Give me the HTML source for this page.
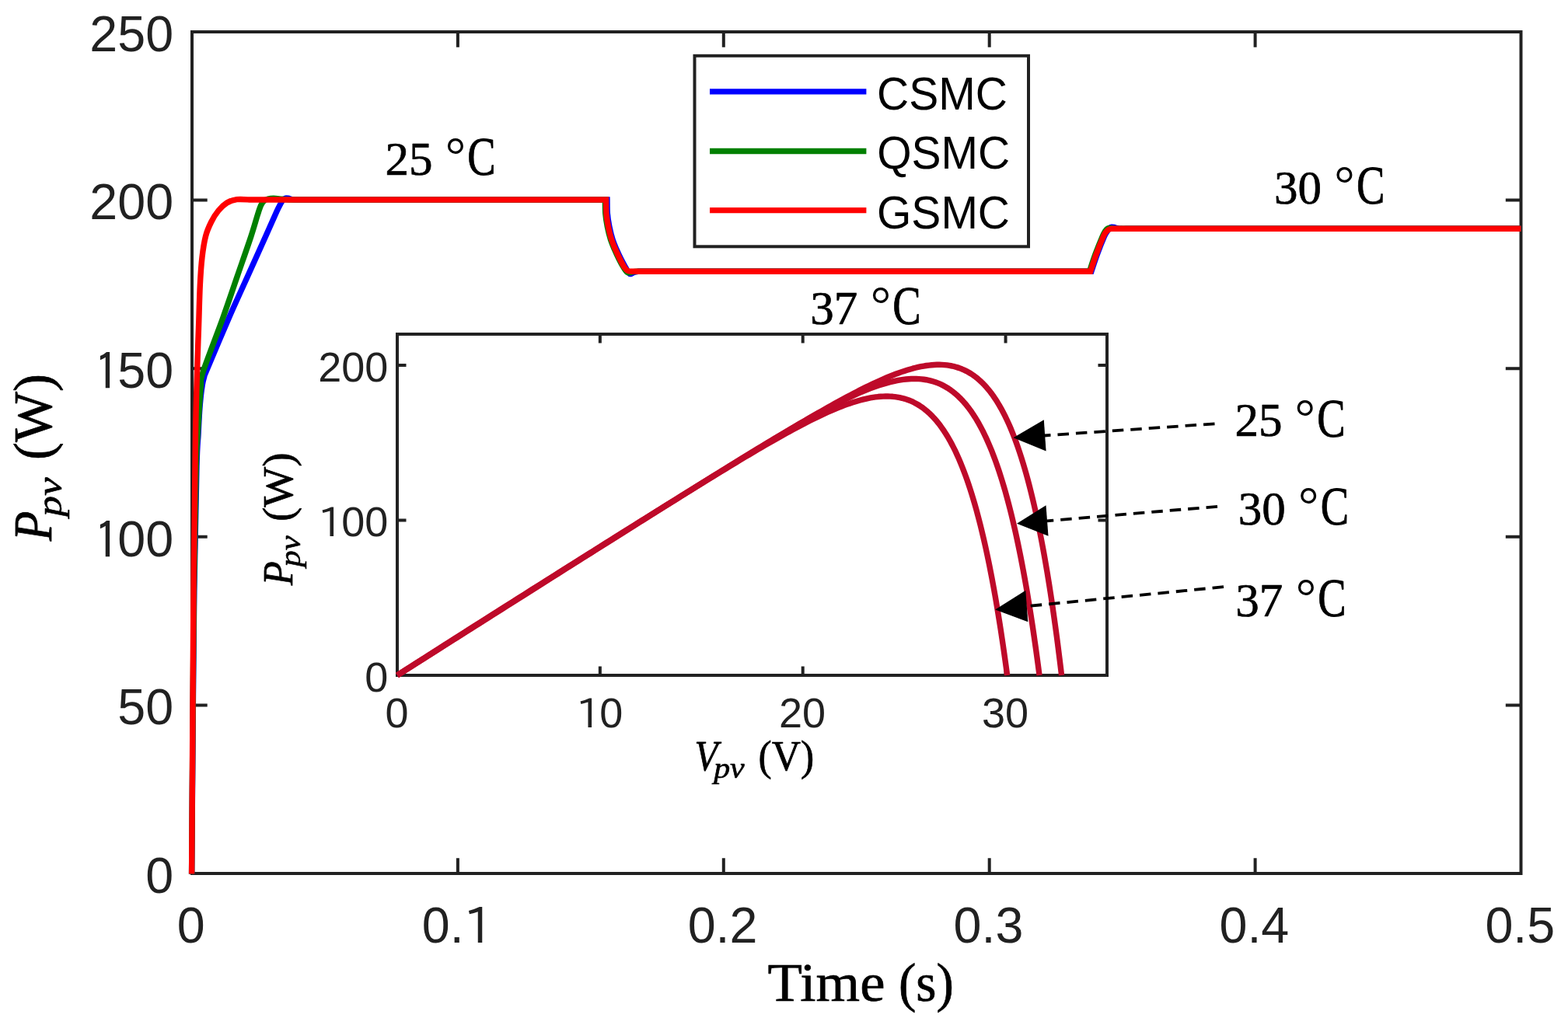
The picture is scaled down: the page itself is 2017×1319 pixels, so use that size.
<!DOCTYPE html>
<html><head><meta charset="utf-8"><title>Ppv vs Time</title>
<style>html,body{margin:0;padding:0;background:#fff;}body{width:2017px;height:1319px;overflow:hidden;}svg{display:block;}</style>
</head><body>
<svg width="2017" height="1319" viewBox="0 0 2017 1319">
<rect x="0" y="0" width="2017" height="1319" fill="#fff"/>
<text y="1148.8" font-family="'Liberation Sans', Arial, sans-serif" font-size="64.6" fill="#212121"><tspan x="187.19">0</tspan></text>
<text y="932.2" font-family="'Liberation Sans', Arial, sans-serif" font-size="64.6" fill="#212121"><tspan x="151.26">50</tspan></text>
<text y="715.6" font-family="'Liberation Sans', Arial, sans-serif" font-size="64.6" fill="#212121"><tspan x="121.16" dy="4.31" font-family="IPAGothic, 'Liberation Sans', sans-serif" font-size="64.99">1</tspan><tspan x="151.26" dy="-4.31">00</tspan></text>
<text y="499" font-family="'Liberation Sans', Arial, sans-serif" font-size="64.6" fill="#212121"><tspan x="121.16" dy="4.31" font-family="IPAGothic, 'Liberation Sans', sans-serif" font-size="64.99">1</tspan><tspan x="151.26" dy="-4.31">50</tspan></text>
<text y="282.4" font-family="'Liberation Sans', Arial, sans-serif" font-size="64.6" fill="#212121"><tspan x="115.34">200</tspan></text>
<text y="65.8" font-family="'Liberation Sans', Arial, sans-serif" font-size="64.6" fill="#212121"><tspan x="115.34">250</tspan></text>
<text y="1213" font-family="'Liberation Sans', Arial, sans-serif" font-size="64.6" fill="#212121"><tspan x="227.84">0</tspan></text>
<text y="1213" font-family="'Liberation Sans', Arial, sans-serif" font-size="64.6" fill="#212121"><tspan x="542.8">0.</tspan><tspan x="596.36" dy="0.8" font-family="IPAPGothic, IPAGothic, 'Liberation Sans', sans-serif" font-size="62.4">1</tspan></text>
<text y="1213" font-family="'Liberation Sans', Arial, sans-serif" font-size="64.6" fill="#212121"><tspan x="884.7">0.2</tspan></text>
<text y="1213" font-family="'Liberation Sans', Arial, sans-serif" font-size="64.6" fill="#212121"><tspan x="1226.6">0.3</tspan></text>
<text y="1213" font-family="'Liberation Sans', Arial, sans-serif" font-size="64.6" fill="#212121"><tspan x="1568.5">0.4</tspan></text>
<text y="1213" font-family="'Liberation Sans', Arial, sans-serif" font-size="64.6" fill="#212121"><tspan x="1910.4">0.5</tspan></text>
<path d="M247,907.4 h19.7 M1956.5,907.4 h-19.7 M247,690.8 h19.7 M1956.5,690.8 h-19.7 M247,474.2 h19.7 M1956.5,474.2 h-19.7 M247,257.6 h19.7 M1956.5,257.6 h-19.7 M247,41 h19.7 M1956.5,41 h-19.7 M588.9,1124 v-19.7 M588.9,41 v19.7 M930.8,1124 v-19.7 M930.8,41 v19.7 M1272.7,1124 v-19.7 M1272.7,41 v19.7 M1614.6,1124 v-19.7 M1614.6,41 v19.7" stroke="#212121" stroke-width="4.0" fill="none"/>
<rect x="247.0" y="41.0" width="1709.5" height="1083" fill="none" stroke="#212121" stroke-width="4.0"/>
<g fill="none" stroke-width="7.4" stroke-linejoin="miter" stroke-miterlimit="10" stroke-linecap="butt">
<path d="M246.6,1124.5 C246.77,1103.75 247.07,1060.75 247.6,1000 C248.13,939.25 248.9,826.67 249.8,760 C250.7,693.33 252.13,633.33 253,600 C253.87,566.67 254.4,571.67 255,560 C255.6,548.33 256.05,538.33 256.6,530 C257.15,521.67 257.67,515.92 258.3,510 C258.93,504.08 259.67,498.67 260.4,494.5 C261.13,490.33 261.9,487.75 262.7,485 C263.5,482.25 259.92,490.63 265.2,478 C270.48,465.37 285.47,429.7 294.4,409.2 C303.33,388.7 310.53,373.37 318.8,355 C327.07,336.63 337.8,312.83 344,299 C350.2,285.17 353.17,278.17 356,272 C358.83,265.83 359.67,264.45 361,262 C362.33,259.55 362.93,258.47 364,257.3 C365.07,256.13 366.23,255.35 367.4,255 C368.57,254.65 369.57,254.93 371,255.2 C372.43,255.47 373.67,256.3 376,256.6 C378.33,256.9 381.83,256.93 385,257 C388.17,257.07 393.33,257 395,257 L781,257 L781,257 C781.07,260 780.92,269.22 781.4,275 C781.88,280.78 782.78,286.13 783.9,291.7 C785.02,297.27 786.57,303.52 788.1,308.4 C789.63,313.28 791.3,316.82 793.1,321 C794.9,325.18 796.95,329.62 798.9,333.5 C800.85,337.38 803.18,341.35 804.8,344.3 C806.42,347.25 807.48,349.82 808.6,351.2 C809.72,352.58 810.35,352.7 811.5,352.6 C812.65,352.5 813.75,351.17 815.5,350.6 C817.25,350.03 820.92,349.43 822,349.2 L1403.9,349.2 L1403.9,349.2 C1405.17,345.48 1408.72,334.42 1411.5,326.9 C1414.28,319.38 1418.48,308.95 1420.6,304.1 C1422.72,299.25 1423.1,299.55 1424.2,297.8 C1425.3,296.05 1426.23,294.53 1427.2,293.6 C1428.17,292.67 1429.03,292.38 1430,292.2 C1430.97,292.02 1431.83,292.27 1433,292.5 C1434.17,292.73 1435.5,293.3 1437,293.6 C1438.5,293.9 1439.83,294.18 1442,294.3 C1444.17,294.42 1448.67,294.3 1450,294.3 L1956.5,294.3" stroke="#0000ff"/>
<path d="M246.6,1124.5 C246.75,1103.75 247.02,1060.75 247.5,1000 C247.98,939.25 248.7,826.67 249.5,760 C250.3,693.33 251.52,633.33 252.3,600 C253.08,566.67 253.53,572.5 254.2,560 C254.87,547.5 255.6,535.5 256.3,525 C257,514.5 257.57,504.82 258.4,497 C259.23,489.18 256.58,492.73 261.3,478.1 C266.02,463.47 279.35,429.72 286.7,409.2 C294.05,388.68 299.38,372.45 305.4,355 C311.42,337.55 318.45,317.67 322.8,304.5 C327.15,291.33 329.38,282.67 331.5,276 C333.62,269.33 334.17,267.42 335.5,264.5 C336.83,261.58 337.97,259.92 339.5,258.5 C341.03,257.08 342.62,256.55 344.7,256 C346.78,255.45 348.97,255.17 352,255.2 C355.03,255.23 359.57,255.9 362.9,256.2 C366.23,256.5 368.32,256.87 372,257 C375.68,257.13 382.83,257 385,257 L778.4,257 L778.4,257 C778.47,260 778.32,269.22 778.8,275 C779.28,280.78 780.18,286.13 781.3,291.7 C782.42,297.27 783.97,303.52 785.5,308.4 C787.03,313.28 788.7,316.82 790.5,321 C792.3,325.18 794.35,329.62 796.3,333.5 C798.25,337.38 800.45,341.48 802.2,344.3 C803.95,347.12 805.42,349.32 806.8,350.4 C808.18,351.48 809.13,350.93 810.5,350.8 C811.87,350.67 813.08,349.87 815,349.6 C816.92,349.33 820.83,349.27 822,349.2 L1401.5,349.2 L1401.5,349.2 C1402.77,345.48 1406.32,334.42 1409.1,326.9 C1411.88,319.38 1416.12,308.98 1418.2,304.1 C1420.28,299.22 1420.47,299.28 1421.6,297.6 C1422.73,295.92 1423.77,294.68 1425,294 C1426.23,293.32 1427.5,293.45 1429,293.5 C1430.5,293.55 1431.33,294.17 1434,294.3 C1436.67,294.43 1443.17,294.3 1445,294.3 L1956.5,294.3" stroke="#008000"/>
<path d="M246.6,1124.5 C246.73,1103.75 247,1060.75 247.4,1000 C247.8,939.25 248.32,833.33 249,760 C249.68,686.67 250.73,607.22 251.5,560 C252.27,512.78 252.93,499.7 253.6,476.7 C254.27,453.7 254.88,440.22 255.5,422 C256.12,403.78 256.55,382.57 257.3,367.4 C258.05,352.23 258.78,341.62 260,331 C261.22,320.38 262.63,311.28 264.6,303.7 C266.57,296.12 269.07,290.95 271.8,285.5 C274.53,280.05 277.65,275.08 281,271 C284.35,266.92 287.97,263.38 291.9,261 C295.83,258.62 299.58,257.37 304.6,256.7 C309.62,256.03 319.1,256.95 322,257 L779.6,257 L779.6,257 C779.67,260 779.52,269.22 780,275 C780.48,280.78 781.38,286.13 782.5,291.7 C783.62,297.27 785.17,303.52 786.7,308.4 C788.23,313.28 789.9,316.82 791.7,321 C793.5,325.18 795.55,329.62 797.5,333.5 C799.45,337.38 801.72,341.8 803.4,344.3 C805.08,346.8 805.93,347.68 807.6,348.5 C809.27,349.32 811,349.08 813.4,349.2 C815.8,349.32 820.57,349.2 822,349.2 L1402.7,349.2 L1402.7,349.2 C1403.97,345.48 1407.52,334.42 1410.3,326.9 C1413.08,319.38 1417.37,308.78 1419.4,304.1 C1421.43,299.42 1421.48,300.18 1422.5,298.8 C1423.52,297.42 1424.37,296.53 1425.5,295.8 C1426.63,295.07 1427.88,294.65 1429.3,294.4 C1430.72,294.15 1431.38,294.32 1434,294.3 C1436.62,294.28 1443.17,294.3 1445,294.3 L1956.5,294.3" stroke="#ff0000"/>
</g>
<rect x="511.0" y="430.0" width="913" height="439" fill="#fff"/>
<text y="889.6" font-family="'Liberation Sans', Arial, sans-serif" font-size="54" fill="#212121"><tspan x="469.27">0</tspan></text>
<text y="690.05" font-family="'Liberation Sans', Arial, sans-serif" font-size="54" fill="#212121"><tspan x="408.94" dy="0.8" font-family="IPAPGothic, IPAGothic, 'Liberation Sans', sans-serif" font-size="52.16">1</tspan><tspan x="439.24" dy="-0.8">00</tspan></text>
<text y="490.51" font-family="'Liberation Sans', Arial, sans-serif" font-size="54" fill="#212121"><tspan x="409.21">200</tspan></text>
<text y="935.7" font-family="'Liberation Sans', Arial, sans-serif" font-size="54" fill="#212121"><tspan x="495.38">0</tspan></text>
<text y="935.7" font-family="'Liberation Sans', Arial, sans-serif" font-size="54" fill="#212121"><tspan x="740.96" dy="0.8" font-family="IPAPGothic, IPAGothic, 'Liberation Sans', sans-serif" font-size="52.16">1</tspan><tspan x="771.26" dy="-0.8">0</tspan></text>
<text y="935.7" font-family="'Liberation Sans', Arial, sans-serif" font-size="54" fill="#212121"><tspan x="1002.08">20</tspan></text>
<text y="935.7" font-family="'Liberation Sans', Arial, sans-serif" font-size="54" fill="#212121"><tspan x="1262.94">30</tspan></text>
<path d="M511,669.45 h11.5 M1424,669.45 h-11.5 M511,469.91 h11.5 M1424,469.91 h-11.5 M771.86,869 v-11.5 M771.86,430 v11.5 M1032.71,869 v-11.5 M1032.71,430 v11.5 M1293.57,869 v-11.5 M1293.57,430 v11.5" stroke="#212121" stroke-width="4.0" fill="none"/>
<rect x="511.0" y="430.0" width="913" height="439" fill="none" stroke="#212121" stroke-width="4.0"/>
<g fill="none" stroke="#be0a2a" stroke-width="7.4" stroke-linejoin="round">
<path d="M511,869 L516.72,865.35 L522.43,861.71 L528.13,858.08 L533.8,854.46 L539.47,850.85 L545.11,847.26 L550.74,843.67 L556.36,840.1 L561.95,836.54 L567.54,832.99 L573.1,829.44 L578.65,825.91 L584.19,822.4 L589.7,818.89 L595.2,815.39 L600.69,811.91 L606.16,808.43 L611.61,804.97 L617.05,801.52 L622.47,798.08 L627.87,794.65 L633.26,791.23 L638.63,787.83 L643.99,784.43 L649.33,781.05 L654.65,777.68 L659.96,774.32 L665.24,770.97 L670.52,767.63 L675.77,764.3 L681.01,760.99 L686.23,757.68 L691.44,754.39 L696.63,751.11 L701.8,747.84 L706.96,744.58 L712.1,741.34 L717.22,738.1 L722.32,734.88 L727.41,731.67 L732.48,728.47 L737.53,725.28 L742.57,722.11 L747.59,718.94 L752.59,715.79 L757.58,712.65 L762.54,709.52 L767.49,706.41 L772.43,703.3 L777.34,700.21 L782.24,697.13 L787.12,694.06 L791.99,691.01 L796.83,687.96 L801.66,684.93 L806.47,681.92 L811.26,678.91 L816.04,675.92 L820.8,672.94 L825.53,669.97 L830.26,667.02 L834.96,664.07 L839.65,661.15 L844.31,658.23 L848.96,655.33 L853.6,652.44 L858.21,649.57 L862.8,646.71 L867.38,643.86 L871.94,641.03 L876.48,638.21 L881,635.4 L885.51,632.62 L889.99,629.84 L894.46,627.08 L898.91,624.34 L903.34,621.61 L907.75,618.9 L912.14,616.2 L916.51,613.52 L920.87,610.86 L925.2,608.21 L929.52,605.58 L933.82,602.97 L938.1,600.37 L942.36,597.8 L946.6,595.24 L950.82,592.7 L955.02,590.18 L959.2,587.69 L963.37,585.21 L967.51,582.75 L971.63,580.32 L975.74,577.91 L979.82,575.52 L983.89,573.15 L987.93,570.81 L991.96,568.5 L995.97,566.21 L999.95,563.94 L1003.92,561.71 L1007.86,559.5 L1011.79,557.32 L1015.69,555.17 L1019.58,553.05 L1023.44,550.97 L1027.29,548.92 L1031.11,546.9 L1034.91,544.91 L1038.69,542.97 L1042.46,541.06 L1046.2,539.19 L1049.92,537.36 L1053.61,535.58 L1057.29,533.83 L1060.95,532.14 L1064.58,530.49 L1068.2,528.88 L1071.79,527.33 L1075.36,525.83 L1078.91,524.38 L1082.44,522.99 L1085.94,521.66 L1089.43,520.39 L1092.89,519.17 L1096.33,518.02 L1099.75,516.94 L1103.14,515.93 L1106.52,514.98 L1109.87,514.11 L1113.2,513.32 L1116.5,512.6 L1119.78,511.96 L1123.05,511.41 L1126.28,510.94 L1129.5,510.56 L1132.69,510.28 L1135.86,510.08 L1139,509.99 L1142.12,509.99 L1145.22,510.1 L1148.29,510.31 L1151.34,510.63 L1154.37,511.06 L1157.37,511.61 L1160.35,512.28 L1163.3,513.07 L1166.23,513.98 L1169.13,515.02 L1172.01,516.19 L1174.87,517.49 L1177.7,518.93 L1180.5,520.51 L1183.28,522.23 L1186.03,524.09 L1188.76,526.11 L1191.46,528.27 L1194.14,530.59 L1196.79,533.06 L1199.41,535.7 L1202,538.49 L1204.57,541.44 L1207.12,544.56 L1209.63,547.84 L1212.12,551.3 L1214.58,554.92 L1217.02,558.71 L1219.42,562.67 L1221.8,566.8 L1224.15,571.11 L1226.47,575.59 L1228.76,580.24 L1231.02,585.06 L1233.25,590.05 L1235.46,595.22 L1237.63,600.55 L1239.77,606.04 L1241.89,611.7 L1243.97,617.52 L1246.02,623.5 L1248.04,629.63 L1250.03,635.91 L1251.98,642.33 L1253.91,648.89 L1255.8,655.59 L1257.66,662.41 L1259.48,669.35 L1261.27,676.4 L1263.03,683.55 L1264.75,690.8 L1266.44,698.13 L1268.09,705.53 L1269.7,713 L1271.28,720.52 L1272.82,728.08 L1274.32,735.66 L1275.79,743.25 L1277.21,750.83 L1278.6,758.4 L1279.94,765.93 L1281.24,773.4 L1282.5,780.8 L1283.71,788.1 L1284.88,795.29 L1286.01,802.34 L1287.09,809.24 L1288.11,815.94 L1289.09,822.44 L1290.02,828.7 L1290.89,834.69 L1291.71,840.37 L1292.46,845.73 L1293.16,850.7 L1293.79,855.25 L1294.34,859.33 L1294.82,862.87 L1295.21,865.79 L1295.5,867.94 L1295.64,869"/>
<path d="M511,869 L517.03,865.19 L523.04,861.38 L529.03,857.59 L535.01,853.81 L540.97,850.04 L546.91,846.28 L552.84,842.53 L558.75,838.79 L564.64,835.07 L570.52,831.35 L576.38,827.64 L582.22,823.95 L588.05,820.26 L593.86,816.59 L599.65,812.93 L605.42,809.28 L611.18,805.63 L616.92,802 L622.64,798.39 L628.35,794.78 L634.04,791.18 L639.71,787.59 L645.37,784.02 L651.01,780.46 L656.63,776.9 L662.23,773.36 L667.81,769.83 L673.38,766.31 L678.93,762.8 L684.47,759.31 L689.98,755.82 L695.48,752.35 L700.96,748.88 L706.42,745.43 L711.87,741.99 L717.3,738.56 L722.71,735.15 L728.1,731.74 L733.47,728.35 L738.83,724.96 L744.17,721.59 L749.49,718.23 L754.79,714.89 L760.07,711.55 L765.34,708.23 L770.59,704.92 L775.82,701.62 L781.03,698.33 L786.22,695.05 L791.4,691.79 L796.55,688.53 L801.69,685.29 L806.81,682.07 L811.91,678.85 L817,675.65 L822.06,672.46 L827.11,669.28 L832.13,666.12 L837.14,662.96 L842.13,659.82 L847.1,656.7 L852.05,653.58 L856.99,650.48 L861.9,647.4 L866.8,644.32 L871.67,641.26 L876.53,638.22 L881.37,635.18 L886.19,632.16 L890.98,629.16 L895.76,626.17 L900.53,623.19 L905.27,620.23 L909.99,617.29 L914.69,614.36 L919.37,611.44 L924.04,608.54 L928.68,605.66 L933.31,602.79 L937.91,599.94 L942.49,597.1 L947.06,594.29 L951.6,591.49 L956.13,588.7 L960.63,585.94 L965.12,583.19 L969.58,580.47 L974.02,577.76 L978.45,575.07 L982.85,572.41 L987.23,569.76 L991.6,567.13 L995.94,564.53 L1000.26,561.95 L1004.56,559.39 L1008.84,556.86 L1013.1,554.35 L1017.34,551.87 L1021.55,549.41 L1025.75,546.98 L1029.92,544.58 L1034.08,542.21 L1038.21,539.86 L1042.32,537.55 L1046.41,535.27 L1050.48,533.02 L1054.53,530.81 L1058.55,528.63 L1062.55,526.48 L1066.54,524.38 L1070.5,522.31 L1074.43,520.28 L1078.35,518.3 L1082.24,516.35 L1086.11,514.46 L1089.96,512.6 L1093.79,510.8 L1097.6,509.05 L1101.38,507.34 L1105.14,505.7 L1108.87,504.1 L1112.59,502.57 L1116.28,501.09 L1119.95,499.67 L1123.59,498.32 L1127.21,497.04 L1130.81,495.82 L1134.38,494.68 L1137.94,493.6 L1141.46,492.61 L1144.97,491.69 L1148.45,490.86 L1151.9,490.1 L1155.34,489.44 L1158.75,488.86 L1162.13,488.38 L1165.49,487.99 L1168.82,487.71 L1172.13,487.52 L1175.42,487.44 L1178.68,487.47 L1181.92,487.6 L1185.13,487.86 L1188.31,488.23 L1191.47,488.72 L1194.61,489.34 L1197.72,490.09 L1200.8,490.97 L1203.86,491.98 L1206.89,493.13 L1209.89,494.43 L1212.87,495.87 L1215.82,497.46 L1218.75,499.19 L1221.65,501.09 L1224.52,503.14 L1227.36,505.35 L1230.18,507.73 L1232.97,510.28 L1235.73,512.99 L1238.46,515.88 L1241.17,518.94 L1243.84,522.17 L1246.49,525.59 L1249.11,529.19 L1251.7,532.97 L1254.27,536.93 L1256.8,541.08 L1259.3,545.41 L1261.77,549.93 L1264.22,554.64 L1266.63,559.54 L1269.01,564.62 L1271.36,569.89 L1273.68,575.34 L1275.97,580.98 L1278.22,586.79 L1280.45,592.79 L1282.64,598.96 L1284.8,605.3 L1286.93,611.82 L1289.02,618.49 L1291.08,625.33 L1293.11,632.32 L1295.1,639.45 L1297.05,646.73 L1298.97,654.14 L1300.86,661.67 L1302.71,669.32 L1304.52,677.07 L1306.3,684.92 L1308.03,692.86 L1309.73,700.86 L1311.4,708.93 L1313.02,717.04 L1314.6,725.18 L1316.14,733.33 L1317.64,741.49 L1319.09,749.62 L1320.51,757.73 L1321.88,765.77 L1323.2,773.74 L1324.48,781.61 L1325.71,789.36 L1326.9,796.97 L1328.03,804.4 L1329.11,811.64 L1330.14,818.66 L1331.12,825.42 L1332.04,831.89 L1332.9,838.04 L1333.69,843.82 L1334.43,849.2 L1335.09,854.13 L1335.67,858.54 L1336.18,862.37 L1336.59,865.52 L1336.89,867.85 L1337.04,869"/>
<path d="M511,869 L517.23,865.01 L523.45,861.03 L529.65,857.07 L535.84,853.12 L542,849.18 L548.15,845.25 L554.28,841.34 L560.4,837.44 L566.49,833.55 L572.57,829.68 L578.64,825.81 L584.68,821.97 L590.71,818.13 L596.72,814.3 L602.71,810.49 L608.68,806.7 L614.64,802.91 L620.58,799.14 L626.5,795.38 L632.41,791.63 L638.29,787.9 L644.16,784.17 L650.01,780.47 L655.84,776.77 L661.66,773.09 L667.45,769.42 L673.23,765.76 L678.99,762.12 L684.73,758.49 L690.46,754.87 L696.16,751.26 L701.85,747.67 L707.52,744.09 L713.17,740.53 L718.81,736.97 L724.42,733.43 L730.02,729.91 L735.6,726.39 L741.16,722.89 L746.7,719.4 L752.22,715.93 L757.72,712.47 L763.21,709.02 L768.68,705.58 L774.12,702.16 L779.55,698.75 L784.96,695.36 L790.36,691.98 L795.73,688.61 L801.08,685.25 L806.42,681.91 L811.73,678.58 L817.03,675.27 L822.31,671.96 L827.57,668.68 L832.8,665.4 L838.02,662.14 L843.23,658.89 L848.41,655.66 L853.57,652.44 L858.71,649.24 L863.83,646.05 L868.94,642.87 L874.02,639.7 L879.09,636.55 L884.13,633.42 L889.16,630.3 L894.16,627.19 L899.15,624.1 L904.11,621.02 L909.06,617.96 L913.98,614.92 L918.89,611.88 L923.77,608.87 L928.64,605.86 L933.48,602.88 L938.31,599.91 L943.11,596.95 L947.89,594.01 L952.66,591.09 L957.4,588.19 L962.12,585.3 L966.82,582.42 L971.5,579.57 L976.16,576.73 L980.8,573.91 L985.42,571.11 L990.02,568.33 L994.6,565.56 L999.15,562.81 L1003.69,560.09 L1008.2,557.38 L1012.69,554.7 L1017.16,552.03 L1021.61,549.39 L1026.04,546.77 L1030.44,544.17 L1034.83,541.59 L1039.19,539.04 L1043.53,536.52 L1047.85,534.01 L1052.15,531.54 L1056.42,529.09 L1060.68,526.67 L1064.91,524.27 L1069.11,521.91 L1073.3,519.58 L1077.47,517.27 L1081.61,515 L1085.73,512.77 L1089.82,510.57 L1093.9,508.4 L1097.95,506.27 L1101.98,504.18 L1105.98,502.13 L1109.96,500.12 L1113.92,498.16 L1117.86,496.24 L1121.77,494.37 L1125.66,492.54 L1129.53,490.77 L1133.37,489.05 L1137.19,487.38 L1140.98,485.77 L1144.75,484.21 L1148.5,482.72 L1152.22,481.29 L1155.92,479.93 L1159.59,478.63 L1163.24,477.41 L1166.87,476.26 L1170.47,475.19 L1174.04,474.19 L1177.59,473.28 L1181.12,472.45 L1184.62,471.71 L1188.1,471.06 L1191.55,470.51 L1194.97,470.06 L1198.37,469.7 L1201.74,469.46 L1205.09,469.32 L1208.41,469.3 L1211.71,469.39 L1214.98,469.6 L1218.22,469.94 L1221.44,470.4 L1224.63,471 L1227.79,471.73 L1230.93,472.61 L1234.04,473.63 L1237.12,474.79 L1240.17,476.11 L1243.2,477.59 L1246.19,479.23 L1249.17,481.03 L1252.11,483 L1255.02,485.14 L1257.91,487.46 L1260.76,489.96 L1263.59,492.64 L1266.39,495.51 L1269.16,498.57 L1271.9,501.83 L1274.61,505.28 L1277.29,508.93 L1279.94,512.78 L1282.56,516.84 L1285.15,521.1 L1287.71,525.57 L1290.23,530.25 L1292.73,535.14 L1295.19,540.24 L1297.63,545.56 L1300.03,551.08 L1302.39,556.82 L1304.73,562.76 L1307.03,568.91 L1309.3,575.27 L1311.53,581.83 L1313.73,588.6 L1315.9,595.55 L1318.03,602.7 L1320.12,610.04 L1322.18,617.55 L1324.21,625.24 L1326.19,633.09 L1328.14,641.1 L1330.06,649.25 L1331.93,657.55 L1333.77,665.97 L1335.57,674.5 L1337.33,683.13 L1339.04,691.86 L1340.72,700.65 L1342.36,709.5 L1343.95,718.39 L1345.5,727.3 L1347.01,736.21 L1348.47,745.1 L1349.89,753.95 L1351.26,762.73 L1352.58,771.42 L1353.86,780 L1355.08,788.43 L1356.26,796.69 L1357.38,804.74 L1358.44,812.56 L1359.45,820.1 L1360.4,827.33 L1361.29,834.21 L1362.11,840.7 L1362.87,846.73 L1363.55,852.26 L1364.16,857.22 L1364.68,861.53 L1365.11,865.08 L1365.42,867.7 L1365.57,869"/>
</g>
<text transform="translate(893.45,990.6) scale(0.88,1)" font-family="'Liberation Serif', 'Times New Roman', serif" font-size="55.5" font-style="italic" fill="#000" stroke="#000" stroke-width="0.8" stroke-linejoin="round" xml:space="preserve">V</text>
<text transform="translate(918.15,1000.5) scale(1.1,1)" font-family="'Liberation Serif', 'Times New Roman', serif" font-size="38" font-style="italic" fill="#000" stroke="#000" stroke-width="0.64" stroke-linejoin="round" xml:space="preserve">pv</text>
<text transform="translate(975.53,990.6) scale(0.93,1)" font-family="'Liberation Serif', 'Times New Roman', serif" font-size="55.5" fill="#000" stroke="#000" stroke-width="0.75" stroke-linejoin="round" xml:space="preserve">(V)</text>
<text transform="translate(375.9,753.33) rotate(-90) scale(0.92,1)" font-family="'Liberation Serif', 'Times New Roman', serif" font-size="55" font-style="italic" fill="#000" stroke="#000" stroke-width="0.76" stroke-linejoin="round" xml:space="preserve">P</text>
<text transform="translate(385.7,729.51) rotate(-90) scale(1.12,1)" font-family="'Liberation Serif', 'Times New Roman', serif" font-size="38" font-style="italic" fill="#000" stroke="#000" stroke-width="0.62" stroke-linejoin="round" xml:space="preserve">pv</text>
<text transform="translate(375.9,671.02) rotate(-90)" font-family="'Liberation Serif', 'Times New Roman', serif" font-size="55" fill="#000" stroke="#000" stroke-width="0.7" stroke-linejoin="round" xml:space="preserve">(W)</text>
<text transform="translate(987.43,1288) scale(1.04,1)" font-family="'Liberation Serif', 'Times New Roman', serif" font-size="70" fill="#000" stroke="#000" stroke-width="0.67" stroke-linejoin="round" xml:space="preserve">Time</text>
<text transform="translate(1155.95,1288) scale(0.96,1)" font-family="'Liberation Serif', 'Times New Roman', serif" font-size="70" fill="#000" stroke="#000" stroke-width="0.73" stroke-linejoin="round" xml:space="preserve">(s)</text>
<text transform="translate(66.25,696.36) rotate(-90) scale(0.92,1)" font-family="'Liberation Serif', 'Times New Roman', serif" font-size="68.7" font-style="italic" fill="#000" stroke="#000" stroke-width="0.76" stroke-linejoin="round" xml:space="preserve">P</text>
<text transform="translate(78.8,664.77) rotate(-90) scale(1.14,1)" font-family="'Liberation Serif', 'Times New Roman', serif" font-size="46.8" font-style="italic" fill="#000" stroke="#000" stroke-width="0.61" stroke-linejoin="round" xml:space="preserve">pv</text>
<text transform="translate(66.25,592.03) rotate(-90)" font-family="'Liberation Serif', 'Times New Roman', serif" font-size="69" fill="#000" stroke="#000" stroke-width="0.7" stroke-linejoin="round" xml:space="preserve">(W)</text>
<text transform="translate(495.62,224.7)" font-family="'Liberation Serif', 'Times New Roman', serif" font-size="61" fill="#000" stroke="#000" stroke-width="0.7" stroke-linejoin="round" xml:space="preserve">25</text><text transform="translate(572.74,222.19)" font-family="'Liberation Serif', 'Times New Roman', serif" font-size="66" fill="#000" xml:space="preserve">°</text><text transform="translate(601.36,224.9) scale(0.79,1)" font-family="'Liberation Serif', 'Times New Roman', serif" font-size="69" fill="#000" stroke="#000" stroke-width="0.89" stroke-linejoin="round" xml:space="preserve">C</text>
<text transform="translate(1638.98,261.9)" font-family="'Liberation Serif', 'Times New Roman', serif" font-size="61" fill="#000" stroke="#000" stroke-width="0.7" stroke-linejoin="round" xml:space="preserve">30</text><text transform="translate(1716.34,259.39)" font-family="'Liberation Serif', 'Times New Roman', serif" font-size="66" fill="#000" xml:space="preserve">°</text><text transform="translate(1744.96,262.1) scale(0.79,1)" font-family="'Liberation Serif', 'Times New Roman', serif" font-size="69" fill="#000" stroke="#000" stroke-width="0.89" stroke-linejoin="round" xml:space="preserve">C</text>
<text transform="translate(1042.28,416.7)" font-family="'Liberation Serif', 'Times New Roman', serif" font-size="61" fill="#000" stroke="#000" stroke-width="0.7" stroke-linejoin="round" xml:space="preserve">37</text><text transform="translate(1119.64,414.19)" font-family="'Liberation Serif', 'Times New Roman', serif" font-size="66" fill="#000" xml:space="preserve">°</text><text transform="translate(1148.26,416.9) scale(0.79,1)" font-family="'Liberation Serif', 'Times New Roman', serif" font-size="69" fill="#000" stroke="#000" stroke-width="0.89" stroke-linejoin="round" xml:space="preserve">C</text>
<text transform="translate(1588.42,561.3)" font-family="'Liberation Serif', 'Times New Roman', serif" font-size="61" fill="#000" stroke="#000" stroke-width="0.7" stroke-linejoin="round" xml:space="preserve">25</text><text transform="translate(1665.54,558.79)" font-family="'Liberation Serif', 'Times New Roman', serif" font-size="66" fill="#000" xml:space="preserve">°</text><text transform="translate(1694.16,561.5) scale(0.79,1)" font-family="'Liberation Serif', 'Times New Roman', serif" font-size="69" fill="#000" stroke="#000" stroke-width="0.89" stroke-linejoin="round" xml:space="preserve">C</text>
<text transform="translate(1592.68,675)" font-family="'Liberation Serif', 'Times New Roman', serif" font-size="61" fill="#000" stroke="#000" stroke-width="0.7" stroke-linejoin="round" xml:space="preserve">30</text><text transform="translate(1670.04,672.49)" font-family="'Liberation Serif', 'Times New Roman', serif" font-size="66" fill="#000" xml:space="preserve">°</text><text transform="translate(1698.66,675.2) scale(0.79,1)" font-family="'Liberation Serif', 'Times New Roman', serif" font-size="69" fill="#000" stroke="#000" stroke-width="0.89" stroke-linejoin="round" xml:space="preserve">C</text>
<text transform="translate(1589.28,792.5)" font-family="'Liberation Serif', 'Times New Roman', serif" font-size="61" fill="#000" stroke="#000" stroke-width="0.7" stroke-linejoin="round" xml:space="preserve">37</text><text transform="translate(1666.64,789.99)" font-family="'Liberation Serif', 'Times New Roman', serif" font-size="66" fill="#000" xml:space="preserve">°</text><text transform="translate(1695.26,792.7) scale(0.79,1)" font-family="'Liberation Serif', 'Times New Roman', serif" font-size="69" fill="#000" stroke="#000" stroke-width="0.89" stroke-linejoin="round" xml:space="preserve">C</text>
<path d="M1562.5,545.3 L1344,560.5" stroke="#000" stroke-width="3.8" stroke-dasharray="14.5 9" fill="none"/><path d="M1303.5,563.3 L1342.8,540.2 L1345.6,580.4 Z" fill="#000"/>
<path d="M1566,651.8 L1347,670.3" stroke="#000" stroke-width="3.8" stroke-dasharray="14.5 9" fill="none"/><path d="M1308,673.7 L1345.5,650.2 L1348.5,689.8 Z" fill="#000"/>
<path d="M1574,755.2 L1320.5,780.2" stroke="#000" stroke-width="3.8" stroke-dasharray="14.5 9" fill="none"/><path d="M1280.1,784.4 L1319.3,759.8 L1322.3,800.3 Z" fill="#000"/>
<rect x="893.5" y="71.8" width="429.5" height="245.5" fill="#fff" stroke="#212121" stroke-width="4.0"/>
<g stroke-width="7.4" fill="none">
<path d="M913,117.9 H1114.4" stroke="#0000ff"/>
<path d="M913,194.5 H1114.4" stroke="#008000"/>
<path d="M913,270.6 H1114.4" stroke="#ff0000"/>
</g>
<text transform="translate(1128.01,141.1) scale(1,1.03)" font-family="'Liberation Sans', Arial, sans-serif" font-size="57" fill="#000" xml:space="preserve">CSMC</text>
<text transform="translate(1128.2,217.4) scale(1,1.03)" font-family="'Liberation Sans', Arial, sans-serif" font-size="57" fill="#000" xml:space="preserve">QSMC</text>
<text transform="translate(1128.03,294.1) scale(1,1.03)" font-family="'Liberation Sans', Arial, sans-serif" font-size="57" fill="#000" xml:space="preserve">GSMC</text>
</svg>
</body></html>
